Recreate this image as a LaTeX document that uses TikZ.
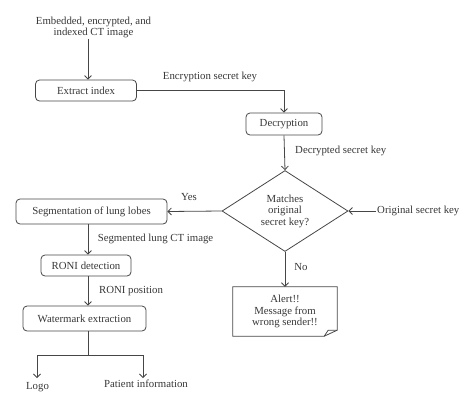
\documentclass[tikz,border=0pt]{standalone}
\usepackage{fontspec}
\setmainfont{Liberation Serif}
\usetikzlibrary{shapes.geometric,arrows.meta,calc}
\definecolor{ink}{RGB}{55,55,55}
\definecolor{lin}{RGB}{70,70,70}
\tikzset{
  txt/.style={font=\fontsize{10.8}{11.5}\selectfont, text=ink, inner sep=1pt, align=center},
  box/.style={txt, draw=lin, line width=0.8pt, rounded corners=4pt, inner sep=0pt},
  arr/.style={draw=lin, line width=0.8pt, -{Straight Barb[length=3.5pt,width=7pt]}},
  ln/.style={draw=lin, line width=0.8pt},
}
\begin{document}
\begin{tikzpicture}[x=1pt,y=-1pt]
\useasboundingbox (0,0) rectangle (474,413);
\node[txt] (title) at (93.5,27.5) {Embedded, encrypted, and\\indexed CT image};
\node[box, minimum width=101pt, minimum height=21pt] (extract) at (86,90.5) {Extract index};
\node[box, minimum width=76pt, minimum height=22pt] (decr) at (284,124) {Decryption};
\node[txt, shape=diamond, draw=lin, line width=0.8pt, aspect=1.55, inner sep=0pt,
      minimum width=126pt, minimum height=81pt] (match) at (285,211) {Matches\\original\\secret key?};
\node[txt, anchor=west] (orig) at (376,211) {Original secret key};
\node[box, minimum width=151pt, minimum height=25pt] (seg) at (91.5,211.5) {Segmentation of lung lobes};
\node[box, minimum width=90pt, minimum height=21pt] (roni) at (86,265.5) {RONI detection};
\node[box, minimum width=123pt, minimum height=25pt] (wm) at (84.5,318.5) {Watermark extraction};
\node[txt, minimum width=104pt, minimum height=49pt] (alert) at (285,311.5) {Alert!!\\Message from\\wrong sender!!};
\draw[ln] (alert.north west) -- (alert.north east) -- ([yshift=6pt]alert.south east)
  -- ([xshift=-13pt]alert.south east) -- (alert.south west) -- cycle;
\draw[ln, line join=round] ([xshift=-13pt]alert.south east) -- ([xshift=-9pt,yshift=6pt]alert.south east) -- ([yshift=6pt]alert.south east);
\coordinate (split) at (88,355);
\node[txt, anchor=north] (logo) at (37.5,381) {Logo};
\node[txt, anchor=north] (patient) at (146,379) {Patient information};
% connectors
\draw[arr] ([xshift=-5.5pt]title.south) -- ([xshift=2pt]extract.north);
\draw[arr] (extract.east) -- (decr.north |- extract.east) -- (decr.north);
\node[txt] (enclab) at (210,77) {Encryption secret key};
\draw[arr] (decr.south) -- (match.north);
\node[txt, anchor=west] (declab) at (294,151) {Decrypted secret key};
\draw[arr] (orig.west) -- (match.east);
\draw[arr] (match.west) -- (seg.east);
\node[txt] (yes) at (189,197) {Yes};
\draw[arr] (match.south) -- (alert.north);
\node[txt] (no) at (301,267) {No};
\draw[arr] ([xshift=-3.5pt]seg.south) -- ([xshift=2pt]roni.north);
\node[txt] (seglab) at (155.5,239) {Segmented lung CT image};
\draw[arr] ([xshift=2pt]roni.south) -- ([xshift=3.5pt]wm.north);
\node[txt] (ronilab) at (131,291) {RONI position};
\draw[ln] ([xshift=3.5pt]wm.south) -- (split);
\draw[arr] (split) -| (37,378);
\draw[arr] (split) -| (143,378);
\end{tikzpicture}
\end{document}
